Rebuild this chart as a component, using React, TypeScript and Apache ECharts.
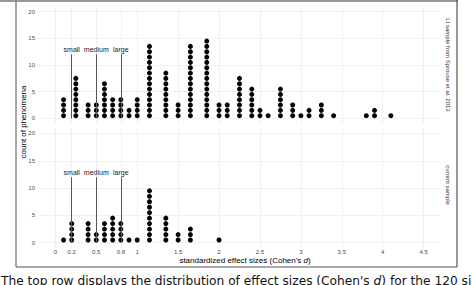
import React, { useEffect, useRef } from "react";
import * as echarts from "echarts";

const xTicks = [0, 0.2, 0.5, 0.8, 1, 1.5, 2, 2.5, 3, 3.5, 4, 4.5];
const yTicks = [0, 5, 10, 15, 20];

const liPositions = [0.1, 0.25, 0.4, 0.5, 0.6, 0.7, 0.8, 0.9, 1.0, 1.15, 1.35, 1.5, 1.65, 1.85, 2.0, 2.1, 2.25, 2.4, 2.5, 2.6, 2.75, 2.9, 3.0, 3.1, 3.25, 3.4, 3.8, 3.9, 4.1];
const liCounts = [4, 8, 3, 3, 7, 4, 4, 2, 4, 14, 9, 3, 14, 15, 3, 3, 8, 6, 2, 1, 6, 3, 1, 2, 3, 1, 1, 2, 1];

const curPositions = [0.1, 0.2, 0.4, 0.5, 0.6, 0.7, 0.8, 0.9, 1.0, 1.15, 1.35, 1.5, 1.65, 2.0];
const curCounts = [1, 4, 4, 2, 4, 5, 4, 1, 1, 10, 5, 2, 3, 1];

const benchmarks = [0.2, 0.5, 0.8];
const benchmarkLabels = ["small", "medium", "large"];
const benchmarkHeight = 12;

const panelLabels = ["LI sample from Sprouse et al. 2013", "current sample"];
const yTitle = "count of phenomena";
const caption = "The top row displays the distribution of effect sizes (Cohen's {i|d}) for the 120 si";

const FONT = "Liberation Sans, Arial, sans-serif";

function stack(positions: number[], counts: number[]) {
  const pts: number[][] = [];
  positions.forEach((x, i) => {
    for (let k = 1; k <= counts[i]; k++) pts.push([x, k - 0.5]);
  });
  return pts;
}

export default function App() {
  const ref = useRef<HTMLDivElement>(null);
  useEffect(() => {
    document.body.style.margin = "0";
    const chart = echarts.init(ref.current!, null, { renderer: "svg" });
    const xAxisBase = (idx: number, showLabels: boolean) => ({
      type: "value",
      gridIndex: idx,
      min: -0.2,
      max: 4.7,
      axisLine: { show: false },
      axisTick: { show: false, customValues: xTicks },
      splitLine: { show: true, lineStyle: { color: "#f0f0f0", width: 1 } },
      axisLabel: {
        show: showLabels,
        customValues: xTicks,
        fontSize: 6,
        color: "#4d4d4d",
        fontFamily: FONT,
        margin: 1,
      },
    });
    const yAxisBase = (idx: number) => ({
      type: "value",
      gridIndex: idx,
      min: -1,
      max: 21,
      axisLine: { show: false },
      axisTick: { show: false, customValues: yTicks },
      splitLine: { show: true, lineStyle: { color: "#f0f0f0", width: 1 } },
      axisLabel: {
        customValues: yTicks,
        fontSize: 6,
        color: "#4d4d4d",
        fontFamily: FONT,
        margin: 4,
      },
    });
    const benchLines = (idx: number) => ({
      type: "scatter",
      xAxisIndex: idx,
      yAxisIndex: idx,
      data: [],
      silent: true,
      markLine: {
        silent: true,
        symbol: ["none", "none"],
        animation: false,
        lineStyle: { color: "#555", width: 1, type: "solid" },
        label: { show: false },
        data: benchmarks.map((b) => [{ coord: [b, 0] }, { coord: [b, benchmarkHeight] }]),
      },
    });
    const benchLabels = (idx: number) => ({
      type: "scatter",
      xAxisIndex: idx,
      yAxisIndex: idx,
      silent: true,
      symbolSize: 1,
      itemStyle: { color: "#ffffff", opacity: 0.01 },
      label: {
        show: true,
        position: "top",
        distance: 1,
        formatter: (p: any) => `{t|${benchmarkLabels[p.dataIndex]}}`,
        rich: { t: { fontSize: 7, color: "#1a1a1a", fontFamily: FONT, opacity: 1 } },
        fontSize: 7,
        color: "#1a1a1a",
        opacity: 1,
        fontFamily: FONT,
      },
      data: benchmarks.map((b) => [b, benchmarkHeight]),
    });
    chart.setOption({
      animation: false,
      grid: [
        { left: 39, right: 34, top: 6.4, height: 117.3 },
        { left: 39, right: 34, top: 128, height: 120.2 },
      ],
      xAxis: [xAxisBase(0, false), xAxisBase(1, true)],
      yAxis: [yAxisBase(0), yAxisBase(1)],
      series: [
        benchLines(0),
        benchLines(1),
        benchLabels(0),
        benchLabels(1),
        {
          type: "scatter",
          xAxisIndex: 0,
          yAxisIndex: 0,
          symbol: "circle",
          symbolSize: 5,
          itemStyle: { color: "#000", opacity: 1 },
          data: stack(liPositions, liCounts),
        },
        {
          type: "scatter",
          xAxisIndex: 1,
          yAxisIndex: 1,
          symbol: "circle",
          symbolSize: 5,
          itemStyle: { color: "#000", opacity: 1 },
          data: stack(curPositions, curCounts),
        },
      ],
      graphic: [
        { type: "line", shape: { x1: 0, y1: 1, x2: 458, y2: 1 }, style: { stroke: "#9a9a9a", lineWidth: 2 } },
        { type: "line", shape: { x1: 16, y1: 0, x2: 16, y2: 267 }, style: { stroke: "#8a8a8a", lineWidth: 1.5 } },
        { type: "line", shape: { x1: 457, y1: 0, x2: 457, y2: 267 }, style: { stroke: "#555", lineWidth: 1.2 } },
        { type: "line", shape: { x1: 16, y1: 267, x2: 457, y2: 267 }, style: { stroke: "#555", lineWidth: 1.2 } },
        {
          type: "text",
          x: 448,
          y: 65,
          rotation: -Math.PI / 2,
          style: { text: panelLabels[0], fontSize: 6, fill: "#333", font: `6px ${FONT}`, align: "center", verticalAlign: "middle" },
        },
        {
          type: "text",
          x: 448,
          y: 185,
          rotation: -Math.PI / 2,
          style: { text: panelLabels[1], fontSize: 6, fill: "#333", font: `6px ${FONT}`, align: "center", verticalAlign: "middle" },
        },
        {
          type: "text",
          x: 23,
          y: 122,
          rotation: Math.PI / 2,
          style: { text: yTitle, fontSize: 8, fill: "#000", font: `8px ${FONT}`, align: "center", verticalAlign: "middle" },
        },
        {
          type: "text",
          x: 245,
          y: 260,
          style: {
            text: "standardized effect sizes (Cohen's {i|d})",
            fontSize: 8,
            fill: "#000",
            fontFamily: FONT,
            align: "center",
            verticalAlign: "middle",
            rich: { i: { fontStyle: "italic", fontSize: 8, fontFamily: FONT, fill: "#000" } },
          },
        },
        {
          type: "text",
          x: 1,
          y: 275,
          style: {
            text: caption,
            fontSize: 12.2,
            fill: "#111",
            fontFamily: "DejaVu Sans",
            align: "left",
            verticalAlign: "top",
            rich: { i: { fontStyle: "italic", fontSize: 12.2, fontFamily: "DejaVu Sans", fill: "#111" } },
          },
        },
      ],
    });
    return () => chart.dispose();
  }, []);
  return <div ref={ref} style={{ width: 474, height: 285 }} />;
}
